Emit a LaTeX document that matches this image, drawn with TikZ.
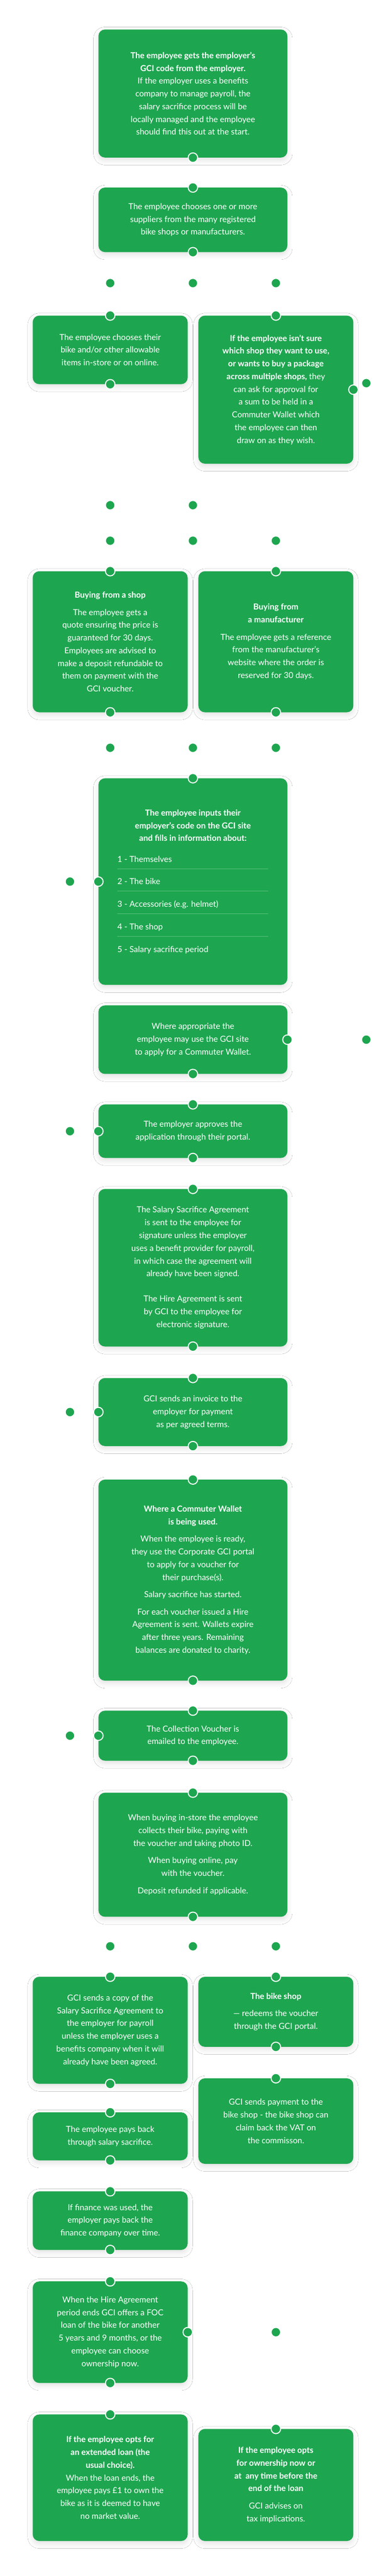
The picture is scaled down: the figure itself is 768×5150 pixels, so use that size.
\documentclass[tikz,border=0pt]{standalone}
\usepackage{fontspec}
\setmainfont{Lato}
\usepackage{tikz}
\usetikzlibrary{positioning, shadows.blur}
\definecolor{GciGreen}{HTML}{1DA64F}
\definecolor{GciLink}{HTML}{CFE3D6}
\definecolor{GciRule}{HTML}{5CC07F}
\pgfdeclarelayer{bg}
\pgfsetlayers{bg,main}
\newcommand{\gap}{\\[9pt]}
\newcommand{\row}[1]{\makebox[302pt][l]{#1}}
\newcommand{\sep}{\\[-12pt]\textcolor{GciRule}{\rule{302pt}{0.8pt}}\\[6pt]}

\begin{document}
\begin{tikzpicture}[x=1pt, y=-1pt,
  box/.style={rounded corners=13pt, fill=GciGreen, text=white, align=center,
    inner sep=0pt, font=\fontsize{16.5}{25.5}\selectfont,
    blur shadow={shadow xshift=0pt, shadow yshift=-5pt, shadow blur radius=10pt, shadow opacity=12}},
  mid/.style={box, minimum width=378pt},
  side/.style={box, minimum width=310pt},
  dot/.style={circle, fill=GciGreen, draw=white, line width=2pt, minimum size=19pt, inner sep=0pt},
  link/.style={draw=GciLink, line width=1.2pt}]
  \useasboundingbox[fill=white] (0,0) rectangle (768,5150);

  % boxes, top to bottom
  \node[mid, minimum height=256pt] (get) at (386,187) {\textbf{The employee gets the employer’s}\\\textbf{GCI code from the employer.}\\If the employer uses a benefits\\company to manage payroll, the\\salary sacrifice process will be\\locally managed and the employee\\should find this out at the start.};
  \node[mid, minimum height=129pt] (choose) at (386,439.5) {The employee chooses one or more\\suppliers from the many registered\\bike shops or manufacturers.};
  \node[side, minimum height=137pt] (bike) at (220.5,699.5) {The employee chooses their\\bike and/or other allowable\\items in-store or on online.};
  \node[side, minimum height=296pt] (unsure) at (552,779) {\textbf{If the employee isn’t sure}\\\textbf{which shop they want to use,}\\\textbf{or wants to buy a package}\\\textbf{across multiple shops,} they\\can ask for approval for\\a sum to be held in a\\Commuter Wallet which\\the employee can then\\draw on as they wish.};
  \node[side, minimum height=282pt] (shop) at (220.5,1283) {\textbf{Buying from a shop}\gap The employee gets a\\quote ensuring the price is\\guaranteed for 30 days.\\Employees are advised to\\make a deposit refundable to\\them on payment with the\\GCI voucher.};
  \node[side, minimum height=282pt] (maker) at (552,1283) {\textbf{Buying from}\\\textbf{a manufacturer}\gap The employee gets a reference\\from the manufacturer’s\\website where the order is\\reserved for 30 days.};
  \node[mid, minimum height=413pt] (inputs) at (386,1762.5) {\textbf{The employee inputs their}\\\textbf{employer’s code on the GCI site}\\\textbf{and fills in information about:}\\[16pt]
    \row{1 - Themselves}\sep\row{2 - The bike}\sep\row{3 - Accessories (e.g. helmet)}\sep\row{4 - The shop}\sep\row{5 - Salary sacrifice period}};
  \node[mid, minimum height=137pt] (apply) at (386,2078.5) {Where appropriate the\\employee may use the GCI site\\to apply for a Commuter Wallet.};
  \node[mid, minimum height=107pt] (approve) at (386,2261.5) {The employer approves the\\application through their portal.};
  \node[mid, minimum height=315pt] (ssa) at (386,2534.5) {The Salary Sacrifice Agreement\\is sent to the employee for\\signature unless the employer\\uses a benefit provider for payroll,\\in which case the agreement will\\already have been signed.\\[25pt]The Hire Agreement is sent\\by GCI to the employee for\\electronic signature.};
  \node[mid, minimum height=136pt] (invoice) at (386,2823) {GCI sends an invoice to the\\employer for payment\\as per agreed terms.};
  \node[mid, minimum height=402pt] (wallet) at (386,3159) {\textbf{Where a Commuter Wallet}\\\textbf{is being used.}\gap When the employee is ready,\\they use the Corporate GCI portal\\to apply for a voucher for\\their purchase(s).\gap Salary sacrifice has started.\gap For each voucher issued a Hire\\Agreement is sent. Wallets expire\\after three years. Remaining\\balances are donated to charity.};
  \node[mid, minimum height=100pt] (voucher) at (386,3470) {The Collection Voucher is\\emailed to the employee.};
  \node[mid, minimum height=248pt] (collect) at (386,3708) {When buying in-store the employee\\collects their bike, paying with\\the voucher and taking photo ID.\gap When buying online, pay\\with the voucher.\gap Deposit refunded if applicable.};
  \node[side, minimum height=214pt] (copy) at (220.5,4059) {GCI sends a copy of the\\Salary Sacrifice Agreement to\\the employer for payroll\\unless the employer uses a\\benefits company when it will\\already have been agreed.};
  \node[side, minimum height=140pt] (redeem) at (552,4022) {\textbf{The bike shop}\gap — redeems the voucher\\through the GCI portal.};
  \node[side, minimum height=171pt] (payment) at (552,4240.5) {GCI sends payment to the\\bike shop - the bike shop can\\claim back the VAT on\\the commisson.};
  \node[side, minimum height=96pt] (payback) at (220.5,4271) {The employee pays back\\through salary sacrifice.};
  \node[side, minimum height=117pt] (finance) at (220.5,4439.5) {If finance was used, the\\employer pays back the\\finance company over time.};
  \node[side, minimum height=203pt] (hire) at (220.5,4662.5) {When the Hire Agreement\\period ends GCI offers a FOC\\loan of the bike for another\\5 years and 9 months, or the\\employee can choose\\ownership now.};
  \node[side, minimum height=253pt] (loan) at (220.5,4953.5) {\textbf{If the employee opts for}\\\textbf{an extended loan (the}\\\textbf{usual choice).}\\When the loan ends, the\\employee pays £1 to own the\\bike as it is deemed to have\\no market value.};
  \node[side, minimum height=224pt] (own) at (552,4968) {\textbf{If the employee opts}\\\textbf{for ownership now or}\\\textbf{at\ \ any time before the}\\\textbf{end of the loan}\gap GCI advises on\\tax implications.};

  % dots on the box edges
  \foreach \b in {get, choose, bike, shop, maker, apply, approve, ssa, invoice, wallet, voucher, collect, copy, redeem, payback, finance, hire}
    \node[dot] (\b-s) at (\b.south) {};
  \foreach \b in {choose, bike, unsure, shop, maker, inputs, approve, ssa, invoice, wallet, voucher, collect, copy, redeem, payment, payback, finance, hire, loan, own}
    \node[dot] (\b-n) at (\b.north) {};
  \foreach \b in {inputs, approve, invoice, voucher}
    \node[dot] (\b-w) at (\b.west) {};
  \node[dot] (unsure-e) at (unsure.east) {};
  \node[dot] (apply-e) at (apply.east) {};
  \node[dot] (hire-e) at (hire.east) {};

  % junctions
  \node[dot] (j1l) at (220.5,566) {};
  \node[dot] (j1c) at (386,566) {};
  \node[dot] (j1r) at (552,566) {};
  \node[dot] (j2l) at (220.5,1010) {};
  \node[dot] (j2c) at (386,1010) {};
  \node[dot] (j3l) at (220.5,1081) {};
  \node[dot] (j3c) at (386,1081) {};
  \node[dot] (j3r) at (552,1081) {};
  \node[dot] (j4l) at (220.5,1495) {};
  \node[dot] (j4c) at (386,1495) {};
  \node[dot] (j4r) at (552,1495) {};
  \node[dot] (ra) at (733,766) {};
  \node[dot] (rb) at (733,2078.5) {};
  \node[dot] (la) at (140,1762.5) {};
  \node[dot] (lb) at (140,2261.5) {};
  \node[dot] (lc) at (140,2823) {};
  \node[dot] (ld) at (140,3470) {};
  \node[dot] (j5l) at (220.5,3891) {};
  \node[dot] (j5c) at (386,3891) {};
  \node[dot] (j5r) at (552,3891) {};
  \node[dot] (hj) at (552,4662.5) {};

  % connectors behind everything
  \begin{pgfonlayer}{bg}
    \draw[link] (get-s) -- (choose-n);
    \draw[link] (choose-s) -- (j1c);
    \draw[link] (j1l) -- (j1r);
    \draw[link] (j1l) -- (bike-n);
    \draw[link] (j1r) -- (unsure-n);
    \draw[link] (bike-s) -- (j2l) -- (j2c) -- (j3c);
    \draw[link] (j3l) -- (j3r);
    \draw[link] (j3l) -- (shop-n);
    \draw[link] (j3r) -- (maker-n);
    \draw[link] (shop-s) -- (j4l) -- (j4r);
    \draw[link] (maker-s) -- (j4r);
    \draw[link] (j4c) -- (inputs-n);
    \draw[link] (unsure-e) -- (ra) -- (rb) -- (apply-e);
    \draw[link] (inputs-w) -- (la) -- (ld) -- (voucher-w);
    \draw[link] (lb) -- (approve-w);
    \draw[link] (lc) -- (invoice-w);
    \draw[link] (apply-s) -- (approve-n);
    \draw[link] (approve-s) -- (ssa-n);
    \draw[link] (ssa-s) -- (invoice-n);
    \draw[link] (invoice-s) -- (wallet-n);
    \draw[link] (wallet-s) -- (voucher-n);
    \draw[link] (voucher-s) -- (collect-n);
    \draw[link] (collect-s) -- (j5c);
    \draw[link] (j5l) -- (j5r);
    \draw[link] (j5l) -- (copy-n);
    \draw[link] (j5r) -- (redeem-n);
    \draw[link] (redeem-s) -- (payment-n);
    \draw[link] (copy-s) -- (payback-n);
    \draw[link] (payback-s) -- (finance-n);
    \draw[link] (finance-s) -- (hire-n);
    \draw[link] (hire-s) -- (loan-n);
    \draw[link] (hire-e) -- (hj) -- (own-n);
  \end{pgfonlayer}
\end{tikzpicture}
\end{document}
